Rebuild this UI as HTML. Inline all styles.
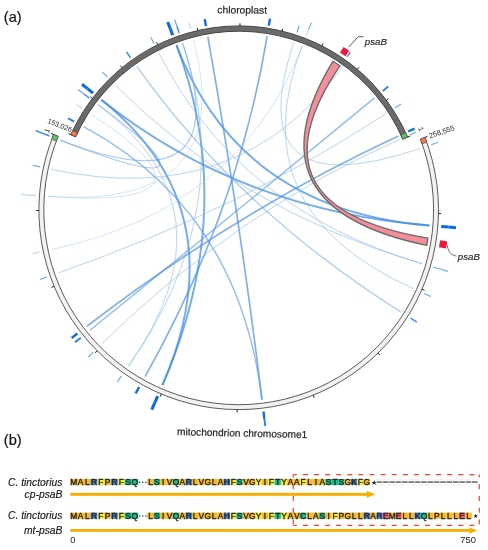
<!DOCTYPE html>
<html><head><meta charset="utf-8"><style>
html,body{margin:0;padding:0;background:#fff;}
body{width:488px;height:550px;overflow:hidden;}
svg{display:block;}
</style></head><body>
<svg xmlns="http://www.w3.org/2000/svg" width="488" height="550" viewBox="0 0 488 550">
<rect width="488" height="550" fill="#fff"/>
<path d="M101.34,99.76 Q238.70,209.80 429.36,225.47" fill="none" stroke="#3d8ae6" stroke-width="1.9" stroke-opacity="0.72"/>
<path d="M176.49,45.16 Q238.70,209.80 429.36,225.47" fill="none" stroke="#3d8ae6" stroke-width="1.9" stroke-opacity="0.72"/>
<path d="M101.34,99.76 Q238.70,209.80 162.42,385.23" fill="none" stroke="#3d8ae6" stroke-width="1.9" stroke-opacity="0.72"/>
<path d="M176.49,45.16 Q238.70,209.80 162.42,385.23" fill="none" stroke="#3d8ae6" stroke-width="1.9" stroke-opacity="0.72"/>
<path d="M207.84,36.53 Q238.70,209.80 262.01,399.67" fill="none" stroke="#4a90e6" stroke-width="1.7" stroke-opacity="0.7"/>
<path d="M83.59,126.63 Q238.70,209.80 262.01,399.67" fill="none" stroke="#5a98e8" stroke-width="1.4" stroke-opacity="0.65"/>
<path d="M267.14,36.11 Q238.70,209.80 145.08,376.63" fill="none" stroke="#4a90e6" stroke-width="1.7" stroke-opacity="0.7"/>
<path d="M293.67,42.60 Q238.70,209.80 419.90,148.47" fill="none" stroke="#80b0ee" stroke-width="1.0" stroke-opacity="0.55"/>
<path d="M114.90,84.70 Q238.70,209.80 422.22,263.81" fill="none" stroke="#80b0ee" stroke-width="1.0" stroke-opacity="0.55"/>
<path d="M158.80,52.98 Q238.70,209.80 422.22,263.81" fill="none" stroke="#80b0ee" stroke-width="1.0" stroke-opacity="0.55"/>
<path d="M386.14,113.69 Q238.70,209.80 58.15,273.03" fill="none" stroke="#80b0ee" stroke-width="1.0" stroke-opacity="0.55"/>
<path d="M342.15,67.41 Q238.70,209.80 51.72,169.37" fill="none" stroke="#80b0ee" stroke-width="1.0" stroke-opacity="0.55"/>
<path d="M302.35,45.71 Q238.70,209.80 51.58,249.57" fill="none" stroke="#a8caf3" stroke-width="1.0" stroke-opacity="0.5"/>
<path d="M302.35,45.71 Q238.70,209.80 413.05,288.52" fill="none" stroke="#80b0ee" stroke-width="1.0" stroke-opacity="0.55"/>
<path d="M374.51,97.85 Q238.70,209.80 90.03,330.19" fill="none" stroke="#5a98e8" stroke-width="1.4" stroke-opacity="0.65"/>
<path d="M398.47,135.98 Q238.70,209.80 86.93,326.26" fill="none" stroke="#4a90e6" stroke-width="1.7" stroke-opacity="0.7"/>
<path d="M136.75,66.34 Q238.70,209.80 400.58,311.74" fill="none" stroke="#6aa2ea" stroke-width="1.2" stroke-opacity="0.6"/>
<path d="M97.77,104.37 Q238.70,209.80 60.47,140.31" fill="none" stroke="#6aa2ea" stroke-width="1.2" stroke-opacity="0.6"/>
<path d="M182.56,42.99 Q238.70,209.80 60.47,140.31" fill="none" stroke="#6aa2ea" stroke-width="1.2" stroke-opacity="0.6"/>
<path d="M193.44,39.72 Q238.70,209.80 47.87,196.46" fill="none" stroke="#a8caf3" stroke-width="1.0" stroke-opacity="0.5"/>
<path d="M90.93,114.20 Q238.70,209.80 47.87,196.46" fill="none" stroke="#a8caf3" stroke-width="1.0" stroke-opacity="0.5"/>
<path d="M182.56,42.99 Q238.70,209.80 128.43,366.12" fill="none" stroke="#80b0ee" stroke-width="1.0" stroke-opacity="0.55"/>
<path d="M97.77,104.37 Q238.70,209.80 128.43,366.12" fill="none" stroke="#80b0ee" stroke-width="1.0" stroke-opacity="0.55"/>
<path d="M399.98,139.34 Q238.70,209.80 102.02,343.65" fill="none" stroke="#80b0ee" stroke-width="1.0" stroke-opacity="0.55"/>
<path d="M333.01,61.20 A176.0,176.0 0 0 1 339.90,65.81 Q244.21,207.42 427.90,238.08 A191.3,191.3 0 0 1 426.67,245.32 Q244.21,207.42 333.01,61.20 Z" fill="#f48e98" stroke="#6a6a6a" stroke-width="1.35"/>
<path d="M93.07,93.13 L87.53,88.69" stroke="#0b6ae0" stroke-width="3.0"/>
<path d="M441.22,226.45 L448.59,227.06" stroke="#0b6ae0" stroke-width="3.0"/>
<path d="M172.74,35.25 L170.23,28.60" stroke="#0b6ae0" stroke-width="3.0"/>
<path d="M448.59,227.06 L455.97,227.66" stroke="#0b6ae0" stroke-width="3.0"/>
<path d="M87.53,88.69 L81.99,84.25" stroke="#0b6ae0" stroke-width="3.0"/>
<path d="M157.67,396.15 L154.72,402.93" stroke="#0b6ae0" stroke-width="3.0"/>
<path d="M170.23,28.60 L167.72,21.96" stroke="#0b6ae0" stroke-width="3.0"/>
<path d="M154.72,402.93 L151.77,409.72" stroke="#0b6ae0" stroke-width="3.0"/>
<path d="M205.98,26.09 L204.73,19.10" stroke="#1070e0" stroke-width="2.4"/>
<path d="M263.46,411.49 L264.37,418.83" stroke="#1070e0" stroke-width="2.4"/>
<path d="M74.25,121.62 L67.99,118.27" stroke="#2a7ee4" stroke-width="1.9"/>
<path d="M264.37,418.83 L265.27,426.18" stroke="#2a7ee4" stroke-width="1.9"/>
<path d="M268.86,25.65 L270.00,18.65" stroke="#1070e0" stroke-width="2.4"/>
<path d="M139.26,387.00 L135.64,393.46" stroke="#1070e0" stroke-width="2.4"/>
<path d="M296.98,32.54 L299.20,25.79" stroke="#6aa6ee" stroke-width="1.1"/>
<path d="M431.17,144.65 L438.18,142.28" stroke="#6aa6ee" stroke-width="1.1"/>
<path d="M107.45,77.16 L102.45,72.12" stroke="#6aa6ee" stroke-width="1.1"/>
<path d="M433.63,267.17 L440.73,269.26" stroke="#6aa6ee" stroke-width="1.1"/>
<path d="M153.99,43.54 L150.76,37.21" stroke="#6aa6ee" stroke-width="1.1"/>
<path d="M440.73,269.26 L447.83,271.35" stroke="#6aa6ee" stroke-width="1.1"/>
<path d="M395.02,107.90 L400.97,104.02" stroke="#6aa6ee" stroke-width="1.1"/>
<path d="M46.92,276.96 L39.94,279.41" stroke="#6aa6ee" stroke-width="1.1"/>
<path d="M40.09,166.86 L32.86,165.29" stroke="#6aa6ee" stroke-width="1.1"/>
<path d="M306.18,35.83 L308.75,29.21" stroke="#b4d2f4" stroke-width="1.0"/>
<path d="M39.94,252.05 L32.70,253.59" stroke="#b4d2f4" stroke-width="1.0"/>
<path d="M308.75,29.21 L311.31,22.59" stroke="#6aa6ee" stroke-width="1.1"/>
<path d="M423.90,293.42 L430.64,296.46" stroke="#6aa6ee" stroke-width="1.1"/>
<path d="M382.69,91.11 L388.16,86.59" stroke="#2a7ee4" stroke-width="1.9"/>
<path d="M80.78,337.68 L75.03,342.33" stroke="#2a7ee4" stroke-width="1.9"/>
<path d="M408.09,131.53 L414.54,128.55" stroke="#1070e0" stroke-width="2.4"/>
<path d="M77.49,333.50 L71.62,338.01" stroke="#1070e0" stroke-width="2.4"/>
<path d="M130.61,57.70 L126.49,51.91" stroke="#3f8ce8" stroke-width="1.5"/>
<path d="M410.65,318.08 L416.91,322.02" stroke="#3f8ce8" stroke-width="1.5"/>
<path d="M89.28,98.02 L83.60,93.77" stroke="#3f8ce8" stroke-width="1.5"/>
<path d="M49.38,135.99 L42.49,133.30" stroke="#3f8ce8" stroke-width="1.5"/>
<path d="M179.18,32.95 L176.92,26.22" stroke="#3f8ce8" stroke-width="1.5"/>
<path d="M42.49,133.30 L35.59,130.61" stroke="#3f8ce8" stroke-width="1.5"/>
<path d="M190.72,29.47 L188.89,22.61" stroke="#b4d2f4" stroke-width="1.0"/>
<path d="M35.99,195.63 L28.61,195.11" stroke="#b4d2f4" stroke-width="1.0"/>
<path d="M82.03,108.44 L76.07,104.59" stroke="#b4d2f4" stroke-width="1.0"/>
<path d="M28.61,195.11 L21.23,194.59" stroke="#b4d2f4" stroke-width="1.0"/>
<path d="M176.92,26.22 L174.65,19.49" stroke="#6aa6ee" stroke-width="1.1"/>
<path d="M121.57,375.84 L117.30,381.89" stroke="#6aa6ee" stroke-width="1.1"/>
<path d="M83.60,93.77 L77.91,89.52" stroke="#6aa6ee" stroke-width="1.1"/>
<path d="M409.69,135.09 L416.20,132.25" stroke="#6aa6ee" stroke-width="1.1"/>
<path d="M93.52,351.97 L88.23,357.15" stroke="#6aa6ee" stroke-width="1.1"/>
<path d="M70.83,134.71 A183.9,183.9 0 0 1 407.60,137.06 L402.73,139.16 A178.6,178.6 0 0 0 75.67,136.87 Z" fill="#6b6b6b" stroke="#3a3a3a" stroke-width="0.9"/>
<path d="M405.64,132.66 A183.9,183.9 0 0 1 407.60,137.06 L402.73,139.16 A178.6,178.6 0 0 0 400.83,134.89 Z" fill="#5cc46c" stroke="#3a3a3a" stroke-width="0.6"/>
<path d="M70.83,134.71 A183.9,183.9 0 0 1 72.85,130.34 L77.63,132.63 A178.6,178.6 0 0 0 75.67,136.87 Z" fill="#f47a50" stroke="#3a3a3a" stroke-width="0.6"/>
<path d="M424.92,137.38 A199.8,199.8 0 1 1 53.65,134.47 L58.18,136.32 A194.9,194.9 0 1 0 420.35,139.16 Z" fill="#f2f2f2" stroke="#4a4a4a" stroke-width="0.9"/>
<path d="M51.74,139.34 A199.8,199.8 0 0 1 53.65,134.47 L58.18,136.32 A194.9,194.9 0 0 0 56.32,141.07 Z" fill="#5cc46c" stroke="#4a4a4a" stroke-width="0.6"/>
<path d="M424.92,137.38 A199.8,199.8 0 0 1 426.75,142.28 L422.14,143.94 A194.9,194.9 0 0 0 420.35,139.16 Z" fill="#f47a50" stroke="#4a4a4a" stroke-width="0.6"/>
<path d="M407.60,137.06 L409.99,136.03" stroke="#222" stroke-width="1"/>
<path d="M386.41,100.26 L388.50,98.71" stroke="#222" stroke-width="1"/>
<path d="M357.35,69.30 L359.03,67.31" stroke="#222" stroke-width="1"/>
<path d="M321.96,45.83 L323.14,43.51" stroke="#222" stroke-width="1"/>
<path d="M282.13,31.10 L282.74,28.58" stroke="#222" stroke-width="1"/>
<path d="M239.98,25.90 L240.00,23.30" stroke="#222" stroke-width="1"/>
<path d="M197.77,30.51 L197.19,27.98" stroke="#222" stroke-width="1"/>
<path d="M157.74,44.68 L156.59,42.35" stroke="#222" stroke-width="1"/>
<path d="M122.02,67.65 L120.37,65.64" stroke="#222" stroke-width="1"/>
<path d="M92.53,98.21 L90.46,96.63" stroke="#222" stroke-width="1"/>
<path d="M70.83,134.71 L68.46,133.65" stroke="#222" stroke-width="1"/>
<path d="M53.65,134.47 L51.05,133.41" stroke="#222" stroke-width="1"/>
<path d="M38.90,210.46 L36.10,210.47" stroke="#222" stroke-width="1"/>
<path d="M54.15,286.36 L51.56,287.43" stroke="#222" stroke-width="1"/>
<path d="M97.10,350.76 L95.12,352.73" stroke="#222" stroke-width="1"/>
<path d="M161.31,394.00 L160.22,396.58" stroke="#222" stroke-width="1"/>
<path d="M237.13,409.59 L237.11,412.39" stroke="#222" stroke-width="1"/>
<path d="M313.19,395.19 L314.23,397.79" stroke="#222" stroke-width="1"/>
<path d="M378.07,352.97 L380.02,354.97" stroke="#222" stroke-width="1"/>
<path d="M422.03,289.25 L424.59,290.36" stroke="#222" stroke-width="1"/>
<path d="M438.46,213.60 L441.26,213.65" stroke="#222" stroke-width="1"/>
<path d="M424.92,137.38 L427.52,136.37" stroke="#222" stroke-width="1"/>
<g font-family="'Liberation Sans', Arial, sans-serif">
<text x="3.8" y="22.2" font-size="14.6" text-anchor="start" fill="#141414" stroke="#141414" stroke-width="0.2">(a)</text>
<text x="3.8" y="445.3" font-size="14.6" text-anchor="start" fill="#141414" stroke="#141414" stroke-width="0.2">(b)</text>
<text x="242.15" y="13.5" font-size="10.3" text-anchor="middle" fill="#231e1e" transform="rotate(0.5 242.15 13.5)" stroke="#231e1e" stroke-width="0.2">chloroplast</text>
<text x="242.1" y="436.6" font-size="10.1" text-anchor="middle" fill="#231e1e" transform="rotate(1.3 242.1 436.6)" stroke="#231e1e" stroke-width="0.2">mitochondrion chromosome1</text>
<text x="70.9" y="132.2" font-size="7.1" text-anchor="end" fill="#222" transform="rotate(21.5 70.9 132.2)">153,026</text>
<text x="430.0" y="138.4" font-size="7.3" text-anchor="start" fill="#222" transform="rotate(-18.5 430.0 138.4)">258,555</text>
<text x="418.81" y="129.99" font-size="7.1" text-anchor="middle" fill="#222" transform="rotate(66.70 418.81 129.99)">1</text>
<text x="49.24" y="131.52" font-size="7.1" text-anchor="middle" fill="#222" transform="rotate(-67.85 49.24 131.52)">1</text>
<path d="M347.05,56.77 L350.23,52.29" stroke="#4aa0f0" stroke-width="1.6"/>
<rect x="341.26" y="48.36" width="6.6" height="6.6" fill="#f0173c" transform="rotate(33.80 344.56 51.66)"/>
<rect x="439.50" y="240.77" width="7.2" height="7.2" fill="#f0173c" transform="rotate(99.60 443.10 244.37)"/>
<path d="M348.7,47.1 L358.3,36.6 L363.4,36.8" fill="none" stroke="#333" stroke-width="0.8"/>
<text x="364.8" y="45.0" font-size="9.7" text-anchor="start" fill="#1e1e1e" font-style="italic" stroke="#1e1e1e" stroke-width="0.15">psaB</text>
<path d="M447.1,245 Q448.5,252.5 452,254.5 L456.4,256.2" fill="none" stroke="#555" stroke-width="0.8"/>
<text x="457.8" y="259.6" font-size="9.7" text-anchor="start" fill="#1e1e1e" font-style="italic" stroke="#1e1e1e" stroke-width="0.15">psaB</text>
</g>
<g font-family="'Liberation Sans', Arial, sans-serif">
<rect x="70.30" y="479.0" width="6.84" height="6.1" fill="#f6b92b"/>
<rect x="77.09" y="479.0" width="6.84" height="6.1" fill="#f6b92b"/>
<rect x="83.88" y="479.0" width="6.84" height="6.1" fill="#f6b92b"/>
<rect x="90.67" y="479.0" width="6.84" height="6.1" fill="#3f7ecb"/>
<rect x="97.46" y="479.0" width="6.84" height="6.1" fill="#f3ec3a"/>
<rect x="104.25" y="479.0" width="6.84" height="6.1" fill="#f6b92b"/>
<rect x="111.04" y="479.0" width="6.84" height="6.1" fill="#3f7ecb"/>
<rect x="117.83" y="479.0" width="6.84" height="6.1" fill="#f3ec3a"/>
<rect x="124.62" y="479.0" width="6.84" height="6.1" fill="#19be8a"/>
<rect x="131.41" y="479.0" width="6.84" height="6.1" fill="#19be8a"/>
<rect x="147.35" y="479.0" width="6.41" height="6.1" fill="#f6b92b"/>
<rect x="153.71" y="479.0" width="6.41" height="6.1" fill="#19be8a"/>
<rect x="160.07" y="479.0" width="6.41" height="6.1" fill="#f6b92b"/>
<rect x="166.43" y="479.0" width="6.41" height="6.1" fill="#f6b92b"/>
<rect x="172.79" y="479.0" width="6.41" height="6.1" fill="#19be8a"/>
<rect x="179.15" y="479.0" width="6.41" height="6.1" fill="#f6b92b"/>
<rect x="185.51" y="479.0" width="6.41" height="6.1" fill="#3f7ecb"/>
<rect x="191.87" y="479.0" width="6.41" height="6.1" fill="#f6b92b"/>
<rect x="198.23" y="479.0" width="6.41" height="6.1" fill="#f6b92b"/>
<rect x="204.59" y="479.0" width="6.41" height="6.1" fill="#f6b92b"/>
<rect x="210.95" y="479.0" width="6.41" height="6.1" fill="#f6b92b"/>
<rect x="217.31" y="479.0" width="6.41" height="6.1" fill="#f6b92b"/>
<rect x="223.67" y="479.0" width="6.41" height="6.1" fill="#3f7ecb"/>
<rect x="230.03" y="479.0" width="6.41" height="6.1" fill="#f3ec3a"/>
<rect x="236.39" y="479.0" width="6.41" height="6.1" fill="#19be8a"/>
<rect x="242.75" y="479.0" width="6.41" height="6.1" fill="#f6b92b"/>
<rect x="249.11" y="479.0" width="6.41" height="6.1" fill="#f6b92b"/>
<rect x="255.47" y="479.0" width="6.41" height="6.1" fill="#f3ec3a"/>
<rect x="261.83" y="479.0" width="6.41" height="6.1" fill="#f6b92b"/>
<rect x="268.19" y="479.0" width="6.41" height="6.1" fill="#f3ec3a"/>
<rect x="274.55" y="479.0" width="6.41" height="6.1" fill="#19be8a"/>
<rect x="280.91" y="479.0" width="6.41" height="6.1" fill="#f3ec3a"/>
<rect x="287.27" y="479.0" width="6.41" height="6.1" fill="#f6b92b"/>
<rect x="293.63" y="479.0" width="6.41" height="6.1" fill="#f6b92b"/>
<rect x="299.99" y="479.0" width="6.41" height="6.1" fill="#f3ec3a"/>
<rect x="306.35" y="479.0" width="6.41" height="6.1" fill="#f6b92b"/>
<rect x="312.71" y="479.0" width="6.41" height="6.1" fill="#f6b92b"/>
<rect x="319.07" y="479.0" width="6.41" height="6.1" fill="#f6b92b"/>
<rect x="325.43" y="479.0" width="6.41" height="6.1" fill="#19be8a"/>
<rect x="331.79" y="479.0" width="6.41" height="6.1" fill="#19be8a"/>
<rect x="338.15" y="479.0" width="6.41" height="6.1" fill="#19be8a"/>
<rect x="344.51" y="479.0" width="6.41" height="6.1" fill="#f6b92b"/>
<rect x="350.87" y="479.0" width="6.41" height="6.1" fill="#3f7ecb"/>
<rect x="357.23" y="479.0" width="6.41" height="6.1" fill="#f3ec3a"/>
<rect x="363.59" y="479.0" width="6.41" height="6.1" fill="#f6b92b"/>
<text x="73.69" y="484.90" font-size="8.4" text-anchor="middle" fill="#262626" stroke="#262626" stroke-width="0.35">M</text>
<text x="80.48" y="484.90" font-size="8.4" text-anchor="middle" fill="#262626" stroke="#262626" stroke-width="0.35">A</text>
<text x="87.27" y="484.90" font-size="8.4" text-anchor="middle" fill="#262626" stroke="#262626" stroke-width="0.35">L</text>
<text x="94.06" y="484.90" font-size="8.4" text-anchor="middle" fill="#262626" stroke="#262626" stroke-width="0.35">R</text>
<text x="100.85" y="484.90" font-size="8.4" text-anchor="middle" fill="#262626" stroke="#262626" stroke-width="0.35">F</text>
<text x="107.64" y="484.90" font-size="8.4" text-anchor="middle" fill="#262626" stroke="#262626" stroke-width="0.35">P</text>
<text x="114.43" y="484.90" font-size="8.4" text-anchor="middle" fill="#262626" stroke="#262626" stroke-width="0.35">R</text>
<text x="121.22" y="484.90" font-size="8.4" text-anchor="middle" fill="#262626" stroke="#262626" stroke-width="0.35">F</text>
<text x="128.02" y="484.90" font-size="8.4" text-anchor="middle" fill="#262626" stroke="#262626" stroke-width="0.35">S</text>
<text x="134.81" y="484.90" font-size="8.4" text-anchor="middle" fill="#262626" stroke="#262626" stroke-width="0.35">Q</text>
<text x="150.53" y="484.90" font-size="8.4" text-anchor="middle" fill="#262626" stroke="#262626" stroke-width="0.35">L</text>
<text x="156.89" y="484.90" font-size="8.4" text-anchor="middle" fill="#262626" stroke="#262626" stroke-width="0.35">S</text>
<text x="163.25" y="484.90" font-size="8.4" text-anchor="middle" fill="#262626" stroke="#262626" stroke-width="0.35">I</text>
<text x="169.61" y="484.90" font-size="8.4" text-anchor="middle" fill="#262626" stroke="#262626" stroke-width="0.35">V</text>
<text x="175.97" y="484.90" font-size="8.4" text-anchor="middle" fill="#262626" stroke="#262626" stroke-width="0.35">Q</text>
<text x="182.33" y="484.90" font-size="8.4" text-anchor="middle" fill="#262626" stroke="#262626" stroke-width="0.35">A</text>
<text x="188.69" y="484.90" font-size="8.4" text-anchor="middle" fill="#262626" stroke="#262626" stroke-width="0.35">R</text>
<text x="195.05" y="484.90" font-size="8.4" text-anchor="middle" fill="#262626" stroke="#262626" stroke-width="0.35">L</text>
<text x="201.41" y="484.90" font-size="8.4" text-anchor="middle" fill="#262626" stroke="#262626" stroke-width="0.35">V</text>
<text x="207.77" y="484.90" font-size="8.4" text-anchor="middle" fill="#262626" stroke="#262626" stroke-width="0.35">G</text>
<text x="214.13" y="484.90" font-size="8.4" text-anchor="middle" fill="#262626" stroke="#262626" stroke-width="0.35">L</text>
<text x="220.49" y="484.90" font-size="8.4" text-anchor="middle" fill="#262626" stroke="#262626" stroke-width="0.35">A</text>
<text x="226.85" y="484.90" font-size="8.4" text-anchor="middle" fill="#262626" stroke="#262626" stroke-width="0.35">H</text>
<text x="233.21" y="484.90" font-size="8.4" text-anchor="middle" fill="#262626" stroke="#262626" stroke-width="0.35">F</text>
<text x="239.57" y="484.90" font-size="8.4" text-anchor="middle" fill="#262626" stroke="#262626" stroke-width="0.35">S</text>
<text x="245.93" y="484.90" font-size="8.4" text-anchor="middle" fill="#262626" stroke="#262626" stroke-width="0.35">V</text>
<text x="252.29" y="484.90" font-size="8.4" text-anchor="middle" fill="#262626" stroke="#262626" stroke-width="0.35">G</text>
<text x="258.65" y="484.90" font-size="8.4" text-anchor="middle" fill="#262626" stroke="#262626" stroke-width="0.35">Y</text>
<text x="265.01" y="484.90" font-size="8.4" text-anchor="middle" fill="#262626" stroke="#262626" stroke-width="0.35">I</text>
<text x="271.37" y="484.90" font-size="8.4" text-anchor="middle" fill="#262626" stroke="#262626" stroke-width="0.35">F</text>
<text x="277.73" y="484.90" font-size="8.4" text-anchor="middle" fill="#262626" stroke="#262626" stroke-width="0.35">T</text>
<text x="284.09" y="484.90" font-size="8.4" text-anchor="middle" fill="#262626" stroke="#262626" stroke-width="0.35">Y</text>
<text x="290.45" y="484.90" font-size="8.4" text-anchor="middle" fill="#262626" stroke="#262626" stroke-width="0.35">A</text>
<text x="296.81" y="484.90" font-size="8.4" text-anchor="middle" fill="#262626" stroke="#262626" stroke-width="0.35">A</text>
<text x="303.17" y="484.90" font-size="8.4" text-anchor="middle" fill="#262626" stroke="#262626" stroke-width="0.35">F</text>
<text x="309.53" y="484.90" font-size="8.4" text-anchor="middle" fill="#262626" stroke="#262626" stroke-width="0.35">L</text>
<text x="315.89" y="484.90" font-size="8.4" text-anchor="middle" fill="#262626" stroke="#262626" stroke-width="0.35">I</text>
<text x="322.25" y="484.90" font-size="8.4" text-anchor="middle" fill="#262626" stroke="#262626" stroke-width="0.35">A</text>
<text x="328.61" y="484.90" font-size="8.4" text-anchor="middle" fill="#262626" stroke="#262626" stroke-width="0.35">S</text>
<text x="334.97" y="484.90" font-size="8.4" text-anchor="middle" fill="#262626" stroke="#262626" stroke-width="0.35">T</text>
<text x="341.33" y="484.90" font-size="8.4" text-anchor="middle" fill="#262626" stroke="#262626" stroke-width="0.35">S</text>
<text x="347.69" y="484.90" font-size="8.4" text-anchor="middle" fill="#262626" stroke="#262626" stroke-width="0.35">G</text>
<text x="354.05" y="484.90" font-size="8.4" text-anchor="middle" fill="#262626" stroke="#262626" stroke-width="0.35">K</text>
<text x="360.41" y="484.90" font-size="8.4" text-anchor="middle" fill="#262626" stroke="#262626" stroke-width="0.35">F</text>
<text x="366.77" y="484.90" font-size="8.4" text-anchor="middle" fill="#262626" stroke="#262626" stroke-width="0.35">G</text>
<circle cx="139.7" cy="482.25" r="0.75" fill="#2a2a2a"/>
<circle cx="142.8" cy="482.25" r="0.75" fill="#2a2a2a"/>
<circle cx="145.9" cy="482.25" r="0.75" fill="#2a2a2a"/>
<rect x="70.30" y="512.6" width="6.84" height="6.2" fill="#f6b92b"/>
<rect x="77.09" y="512.6" width="6.84" height="6.2" fill="#f6b92b"/>
<rect x="83.88" y="512.6" width="6.84" height="6.2" fill="#f6b92b"/>
<rect x="90.67" y="512.6" width="6.84" height="6.2" fill="#3f7ecb"/>
<rect x="97.46" y="512.6" width="6.84" height="6.2" fill="#f3ec3a"/>
<rect x="104.25" y="512.6" width="6.84" height="6.2" fill="#f6b92b"/>
<rect x="111.04" y="512.6" width="6.84" height="6.2" fill="#3f7ecb"/>
<rect x="117.83" y="512.6" width="6.84" height="6.2" fill="#f3ec3a"/>
<rect x="124.62" y="512.6" width="6.84" height="6.2" fill="#19be8a"/>
<rect x="131.41" y="512.6" width="6.84" height="6.2" fill="#19be8a"/>
<rect x="147.35" y="512.6" width="6.41" height="6.2" fill="#f6b92b"/>
<rect x="153.71" y="512.6" width="6.41" height="6.2" fill="#19be8a"/>
<rect x="160.07" y="512.6" width="6.41" height="6.2" fill="#f6b92b"/>
<rect x="166.43" y="512.6" width="6.41" height="6.2" fill="#f6b92b"/>
<rect x="172.79" y="512.6" width="6.41" height="6.2" fill="#19be8a"/>
<rect x="179.15" y="512.6" width="6.41" height="6.2" fill="#f6b92b"/>
<rect x="185.51" y="512.6" width="6.41" height="6.2" fill="#3f7ecb"/>
<rect x="191.87" y="512.6" width="6.41" height="6.2" fill="#f6b92b"/>
<rect x="198.23" y="512.6" width="6.41" height="6.2" fill="#f6b92b"/>
<rect x="204.59" y="512.6" width="6.41" height="6.2" fill="#f6b92b"/>
<rect x="210.95" y="512.6" width="6.41" height="6.2" fill="#f6b92b"/>
<rect x="217.31" y="512.6" width="6.41" height="6.2" fill="#f6b92b"/>
<rect x="223.67" y="512.6" width="6.41" height="6.2" fill="#3f7ecb"/>
<rect x="230.03" y="512.6" width="6.41" height="6.2" fill="#f3ec3a"/>
<rect x="236.39" y="512.6" width="6.41" height="6.2" fill="#19be8a"/>
<rect x="242.75" y="512.6" width="6.41" height="6.2" fill="#f6b92b"/>
<rect x="249.11" y="512.6" width="6.41" height="6.2" fill="#f6b92b"/>
<rect x="255.47" y="512.6" width="6.41" height="6.2" fill="#f3ec3a"/>
<rect x="261.83" y="512.6" width="6.41" height="6.2" fill="#f6b92b"/>
<rect x="268.19" y="512.6" width="6.41" height="6.2" fill="#f3ec3a"/>
<rect x="274.55" y="512.6" width="6.41" height="6.2" fill="#19be8a"/>
<rect x="280.91" y="512.6" width="6.41" height="6.2" fill="#f3ec3a"/>
<rect x="287.27" y="512.6" width="6.41" height="6.2" fill="#f6b92b"/>
<rect x="293.63" y="512.6" width="6.41" height="6.2" fill="#f6b92b"/>
<rect x="299.99" y="512.6" width="6.41" height="6.2" fill="#19be8a"/>
<rect x="306.35" y="512.6" width="6.41" height="6.2" fill="#f6b92b"/>
<rect x="312.71" y="512.6" width="6.41" height="6.2" fill="#f6b92b"/>
<rect x="319.07" y="512.6" width="6.41" height="6.2" fill="#19be8a"/>
<rect x="325.43" y="512.6" width="6.41" height="6.2" fill="#f6b92b"/>
<rect x="331.79" y="512.6" width="6.41" height="6.2" fill="#f3ec3a"/>
<rect x="338.15" y="512.6" width="6.41" height="6.2" fill="#f6b92b"/>
<rect x="344.51" y="512.6" width="6.41" height="6.2" fill="#f6b92b"/>
<rect x="350.87" y="512.6" width="6.41" height="6.2" fill="#f6b92b"/>
<rect x="357.23" y="512.6" width="6.41" height="6.2" fill="#f6b92b"/>
<rect x="363.59" y="512.6" width="6.41" height="6.2" fill="#3f7ecb"/>
<rect x="369.95" y="512.6" width="6.41" height="6.2" fill="#f6b92b"/>
<rect x="376.31" y="512.6" width="6.41" height="6.2" fill="#3f7ecb"/>
<rect x="382.67" y="512.6" width="6.41" height="6.2" fill="#ef5f6c"/>
<rect x="389.03" y="512.6" width="6.41" height="6.2" fill="#f6b92b"/>
<rect x="395.39" y="512.6" width="6.41" height="6.2" fill="#ef5f6c"/>
<rect x="401.75" y="512.6" width="6.41" height="6.2" fill="#f6b92b"/>
<rect x="408.11" y="512.6" width="6.41" height="6.2" fill="#f6b92b"/>
<rect x="414.47" y="512.6" width="6.41" height="6.2" fill="#3f7ecb"/>
<rect x="420.83" y="512.6" width="6.41" height="6.2" fill="#19be8a"/>
<rect x="427.19" y="512.6" width="6.41" height="6.2" fill="#f6b92b"/>
<rect x="433.55" y="512.6" width="6.41" height="6.2" fill="#f6b92b"/>
<rect x="439.91" y="512.6" width="6.41" height="6.2" fill="#f6b92b"/>
<rect x="446.27" y="512.6" width="6.41" height="6.2" fill="#f6b92b"/>
<rect x="452.63" y="512.6" width="6.41" height="6.2" fill="#f6b92b"/>
<rect x="458.99" y="512.6" width="6.41" height="6.2" fill="#ef5f6c"/>
<rect x="465.35" y="512.6" width="6.41" height="6.2" fill="#f6b92b"/>
<text x="73.69" y="518.60" font-size="8.4" text-anchor="middle" fill="#262626" stroke="#262626" stroke-width="0.35">M</text>
<text x="80.48" y="518.60" font-size="8.4" text-anchor="middle" fill="#262626" stroke="#262626" stroke-width="0.35">A</text>
<text x="87.27" y="518.60" font-size="8.4" text-anchor="middle" fill="#262626" stroke="#262626" stroke-width="0.35">L</text>
<text x="94.06" y="518.60" font-size="8.4" text-anchor="middle" fill="#262626" stroke="#262626" stroke-width="0.35">R</text>
<text x="100.85" y="518.60" font-size="8.4" text-anchor="middle" fill="#262626" stroke="#262626" stroke-width="0.35">F</text>
<text x="107.64" y="518.60" font-size="8.4" text-anchor="middle" fill="#262626" stroke="#262626" stroke-width="0.35">P</text>
<text x="114.43" y="518.60" font-size="8.4" text-anchor="middle" fill="#262626" stroke="#262626" stroke-width="0.35">R</text>
<text x="121.22" y="518.60" font-size="8.4" text-anchor="middle" fill="#262626" stroke="#262626" stroke-width="0.35">F</text>
<text x="128.02" y="518.60" font-size="8.4" text-anchor="middle" fill="#262626" stroke="#262626" stroke-width="0.35">S</text>
<text x="134.81" y="518.60" font-size="8.4" text-anchor="middle" fill="#262626" stroke="#262626" stroke-width="0.35">Q</text>
<text x="150.53" y="518.60" font-size="8.4" text-anchor="middle" fill="#262626" stroke="#262626" stroke-width="0.35">L</text>
<text x="156.89" y="518.60" font-size="8.4" text-anchor="middle" fill="#262626" stroke="#262626" stroke-width="0.35">S</text>
<text x="163.25" y="518.60" font-size="8.4" text-anchor="middle" fill="#262626" stroke="#262626" stroke-width="0.35">I</text>
<text x="169.61" y="518.60" font-size="8.4" text-anchor="middle" fill="#262626" stroke="#262626" stroke-width="0.35">V</text>
<text x="175.97" y="518.60" font-size="8.4" text-anchor="middle" fill="#262626" stroke="#262626" stroke-width="0.35">Q</text>
<text x="182.33" y="518.60" font-size="8.4" text-anchor="middle" fill="#262626" stroke="#262626" stroke-width="0.35">A</text>
<text x="188.69" y="518.60" font-size="8.4" text-anchor="middle" fill="#262626" stroke="#262626" stroke-width="0.35">R</text>
<text x="195.05" y="518.60" font-size="8.4" text-anchor="middle" fill="#262626" stroke="#262626" stroke-width="0.35">L</text>
<text x="201.41" y="518.60" font-size="8.4" text-anchor="middle" fill="#262626" stroke="#262626" stroke-width="0.35">V</text>
<text x="207.77" y="518.60" font-size="8.4" text-anchor="middle" fill="#262626" stroke="#262626" stroke-width="0.35">G</text>
<text x="214.13" y="518.60" font-size="8.4" text-anchor="middle" fill="#262626" stroke="#262626" stroke-width="0.35">L</text>
<text x="220.49" y="518.60" font-size="8.4" text-anchor="middle" fill="#262626" stroke="#262626" stroke-width="0.35">A</text>
<text x="226.85" y="518.60" font-size="8.4" text-anchor="middle" fill="#262626" stroke="#262626" stroke-width="0.35">H</text>
<text x="233.21" y="518.60" font-size="8.4" text-anchor="middle" fill="#262626" stroke="#262626" stroke-width="0.35">F</text>
<text x="239.57" y="518.60" font-size="8.4" text-anchor="middle" fill="#262626" stroke="#262626" stroke-width="0.35">S</text>
<text x="245.93" y="518.60" font-size="8.4" text-anchor="middle" fill="#262626" stroke="#262626" stroke-width="0.35">V</text>
<text x="252.29" y="518.60" font-size="8.4" text-anchor="middle" fill="#262626" stroke="#262626" stroke-width="0.35">G</text>
<text x="258.65" y="518.60" font-size="8.4" text-anchor="middle" fill="#262626" stroke="#262626" stroke-width="0.35">Y</text>
<text x="265.01" y="518.60" font-size="8.4" text-anchor="middle" fill="#262626" stroke="#262626" stroke-width="0.35">I</text>
<text x="271.37" y="518.60" font-size="8.4" text-anchor="middle" fill="#262626" stroke="#262626" stroke-width="0.35">F</text>
<text x="277.73" y="518.60" font-size="8.4" text-anchor="middle" fill="#262626" stroke="#262626" stroke-width="0.35">T</text>
<text x="284.09" y="518.60" font-size="8.4" text-anchor="middle" fill="#262626" stroke="#262626" stroke-width="0.35">Y</text>
<text x="290.45" y="518.60" font-size="8.4" text-anchor="middle" fill="#262626" stroke="#262626" stroke-width="0.35">A</text>
<text x="296.81" y="518.60" font-size="8.4" text-anchor="middle" fill="#262626" stroke="#262626" stroke-width="0.35">V</text>
<text x="303.17" y="518.60" font-size="8.4" text-anchor="middle" fill="#262626" stroke="#262626" stroke-width="0.35">C</text>
<text x="309.53" y="518.60" font-size="8.4" text-anchor="middle" fill="#262626" stroke="#262626" stroke-width="0.35">L</text>
<text x="315.89" y="518.60" font-size="8.4" text-anchor="middle" fill="#262626" stroke="#262626" stroke-width="0.35">A</text>
<text x="322.25" y="518.60" font-size="8.4" text-anchor="middle" fill="#262626" stroke="#262626" stroke-width="0.35">S</text>
<text x="328.61" y="518.60" font-size="8.4" text-anchor="middle" fill="#262626" stroke="#262626" stroke-width="0.35">I</text>
<text x="334.97" y="518.60" font-size="8.4" text-anchor="middle" fill="#262626" stroke="#262626" stroke-width="0.35">F</text>
<text x="341.33" y="518.60" font-size="8.4" text-anchor="middle" fill="#262626" stroke="#262626" stroke-width="0.35">P</text>
<text x="347.69" y="518.60" font-size="8.4" text-anchor="middle" fill="#262626" stroke="#262626" stroke-width="0.35">G</text>
<text x="354.05" y="518.60" font-size="8.4" text-anchor="middle" fill="#262626" stroke="#262626" stroke-width="0.35">L</text>
<text x="360.41" y="518.60" font-size="8.4" text-anchor="middle" fill="#262626" stroke="#262626" stroke-width="0.35">L</text>
<text x="366.77" y="518.60" font-size="8.4" text-anchor="middle" fill="#262626" stroke="#262626" stroke-width="0.35">R</text>
<text x="373.13" y="518.60" font-size="8.4" text-anchor="middle" fill="#262626" stroke="#262626" stroke-width="0.35">A</text>
<text x="379.49" y="518.60" font-size="8.4" text-anchor="middle" fill="#262626" stroke="#262626" stroke-width="0.35">R</text>
<text x="385.85" y="518.60" font-size="8.4" text-anchor="middle" fill="#262626" stroke="#262626" stroke-width="0.35">E</text>
<text x="392.21" y="518.60" font-size="8.4" text-anchor="middle" fill="#262626" stroke="#262626" stroke-width="0.35">M</text>
<text x="398.57" y="518.60" font-size="8.4" text-anchor="middle" fill="#262626" stroke="#262626" stroke-width="0.35">E</text>
<text x="404.93" y="518.60" font-size="8.4" text-anchor="middle" fill="#262626" stroke="#262626" stroke-width="0.35">L</text>
<text x="411.29" y="518.60" font-size="8.4" text-anchor="middle" fill="#262626" stroke="#262626" stroke-width="0.35">L</text>
<text x="417.65" y="518.60" font-size="8.4" text-anchor="middle" fill="#262626" stroke="#262626" stroke-width="0.35">K</text>
<text x="424.01" y="518.60" font-size="8.4" text-anchor="middle" fill="#262626" stroke="#262626" stroke-width="0.35">Q</text>
<text x="430.37" y="518.60" font-size="8.4" text-anchor="middle" fill="#262626" stroke="#262626" stroke-width="0.35">L</text>
<text x="436.73" y="518.60" font-size="8.4" text-anchor="middle" fill="#262626" stroke="#262626" stroke-width="0.35">P</text>
<text x="443.09" y="518.60" font-size="8.4" text-anchor="middle" fill="#262626" stroke="#262626" stroke-width="0.35">L</text>
<text x="449.45" y="518.60" font-size="8.4" text-anchor="middle" fill="#262626" stroke="#262626" stroke-width="0.35">L</text>
<text x="455.81" y="518.60" font-size="8.4" text-anchor="middle" fill="#262626" stroke="#262626" stroke-width="0.35">L</text>
<text x="462.17" y="518.60" font-size="8.4" text-anchor="middle" fill="#262626" stroke="#262626" stroke-width="0.35">E</text>
<text x="468.53" y="518.60" font-size="8.4" text-anchor="middle" fill="#262626" stroke="#262626" stroke-width="0.35">L</text>
<circle cx="139.7" cy="515.90" r="0.75" fill="#2a2a2a"/>
<circle cx="142.8" cy="515.90" r="0.75" fill="#2a2a2a"/>
<circle cx="145.9" cy="515.90" r="0.75" fill="#2a2a2a"/>
<text x="373.6" y="484.6" font-size="6.6" text-anchor="middle" fill="#1a1a1a">★</text>
<rect x="376.60" y="481.4" width="5.60" height="1.3" fill="#4a4a4a"/>
<rect x="382.96" y="481.4" width="5.60" height="1.3" fill="#4a4a4a"/>
<rect x="389.32" y="481.4" width="5.60" height="1.3" fill="#4a4a4a"/>
<rect x="395.68" y="481.4" width="5.60" height="1.3" fill="#4a4a4a"/>
<rect x="402.04" y="481.4" width="5.60" height="1.3" fill="#4a4a4a"/>
<rect x="408.40" y="481.4" width="5.60" height="1.3" fill="#4a4a4a"/>
<rect x="414.76" y="481.4" width="5.60" height="1.3" fill="#4a4a4a"/>
<rect x="421.12" y="481.4" width="5.60" height="1.3" fill="#4a4a4a"/>
<rect x="427.48" y="481.4" width="5.60" height="1.3" fill="#4a4a4a"/>
<rect x="433.84" y="481.4" width="5.60" height="1.3" fill="#4a4a4a"/>
<rect x="440.20" y="481.4" width="5.60" height="1.3" fill="#4a4a4a"/>
<rect x="446.56" y="481.4" width="5.60" height="1.3" fill="#4a4a4a"/>
<rect x="452.92" y="481.4" width="5.60" height="1.3" fill="#4a4a4a"/>
<rect x="459.28" y="481.4" width="5.60" height="1.3" fill="#4a4a4a"/>
<rect x="465.64" y="481.4" width="5.60" height="1.3" fill="#4a4a4a"/>
<rect x="472.00" y="481.4" width="5.60" height="1.3" fill="#4a4a4a"/>
<rect x="376.3" y="479.2" width="101.5" height="5.8" fill="none" stroke="#e4e4e4" stroke-width="0.5"/>
<text x="475.9" y="518.2" font-size="6.2" text-anchor="middle" fill="#1a1a1a">★</text>
<text x="62.4" y="485.6" font-size="10.3" text-anchor="end" fill="#161616" font-style="italic" stroke="#161616" stroke-width="0.15">C. tinctorius</text>
<text x="62.4" y="497.9" font-size="10.3" text-anchor="end" fill="#161616" font-style="italic" stroke="#161616" stroke-width="0.15">cp-psaB</text>
<text x="62.4" y="518.5" font-size="10.3" text-anchor="end" fill="#161616" font-style="italic" stroke="#161616" stroke-width="0.15">C. tinctorius</text>
<text x="62.4" y="533.7" font-size="10.3" text-anchor="end" fill="#161616" font-style="italic" stroke="#161616" stroke-width="0.15">mt-psaB</text>
<rect x="70.3" y="492.9" width="297" height="2.9" fill="#f7ae00"/>
<path d="M366.8,490.9 L375.4,494.35 L366.8,497.8 Z" fill="#f7ae00"/>
<rect x="70.3" y="529.0" width="399.5" height="2.8" fill="#f7ae00"/>
<path d="M469.4,527.6 L477.1,530.4 L469.4,533.8 Z" fill="#f7ae00"/>
<text x="70.3" y="543.0" font-size="9.3" text-anchor="start" fill="#222">0</text>
<text x="475.9" y="543.0" font-size="9.4" text-anchor="end" fill="#222">750</text>
<path d="M293.3,474.6 H479.3" stroke="#f0452e" stroke-width="1.2" fill="none" stroke-dasharray="5 6.1" stroke-dashoffset="1.5"/>
<path d="M293.3,525.4 H479.3" stroke="#f0452e" stroke-width="1.2" fill="none" stroke-dasharray="5 6.1" stroke-dashoffset="1.5"/>
<path d="M293.3,474.6 V525.4" stroke="#f0452e" stroke-width="1.2" fill="none" stroke-dasharray="5 6.7" stroke-dashoffset="2"/>
<path d="M479.3,474.6 V525.4" stroke="#f0452e" stroke-width="1.2" fill="none" stroke-dasharray="5 6.7" stroke-dashoffset="2"/>
</g>
</svg>
</body></html>
